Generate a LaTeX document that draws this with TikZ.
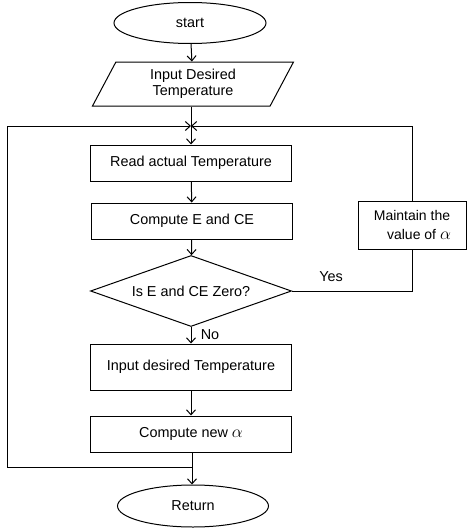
\documentclass[tikz,border=0pt]{standalone}
\usepackage{fontspec}
\setmainfont{Liberation Sans}
\usetikzlibrary{shapes.geometric,arrows.meta}
\newcommand{\bigalpha}{{\fontsize{18}{18}\selectfont$\alpha$}}

\begin{document}
\begin{tikzpicture}
[x=1pt,y=-1pt,line width=1pt,>={Straight Barb[length=5pt,width=9pt]},
	every node/.style={font=\fontsize{14.4}{16.5}\selectfont},
	terminal/.style={draw,ellipse,minimum width=152pt,minimum height=41pt,inner sep=0pt},
	datain/.style={draw,trapezium,trapezium left angle=52,trapezium right angle=128,
		trapezium stretches body,minimum width=201pt,minimum height=44pt,inner sep=0pt,align=center},
	process/.style={draw,rectangle,minimum width=201pt,minimum height=36pt,inner sep=0pt},
	decision/.style={draw,diamond,aspect=2.83,minimum width=201pt,minimum height=71pt,inner sep=0pt},
	sidebox/.style={draw,rectangle,minimum width=108pt,minimum height=48pt,inner sep=0pt,
		align=center,font=\fontsize{14}{15}\selectfont}]
\useasboundingbox (0,0) rectangle (474,530);

\node[terminal] (start) at (190,23) {start};
\node[datain] (desired) at (193,84) {Input Desired\\Temperature};
\coordinate (join) at (191,126);
\node[process] (read) at (191,163) {Read actual Temperature};
\node[process] (error) at (192,221) {Compute E and CE};
\node[decision] (zero) at (191,291) {Is E and CE Zero?};
\node[sidebox] (keep) at (412,225) {Maintain the\\[4pt]\quad value of \bigalpha};
\node[process,minimum height=46pt] (newtemp) at (191,367) {Input desired Temperature};
\node[process] (newalpha) at (191,434) {Compute new \bigalpha};
\node[terminal,minimum width=151pt,minimum height=42pt] (return) at (193,506) {Return};
\coordinate (back) at (192,467);

\draw[->] (start) -- (desired);
\draw[->] (desired.south -| join) -- (read.north -| join);
\draw[->] (read) -- (error);
\draw[->] (error) -- (zero);
\draw (zero.east) -- (keep.south |- zero.east) -- (keep.south);
\draw[->] (keep.north) |- (join);
\draw[->] (zero) -- node[right,xshift=6pt,yshift=1pt] {No} (newtemp);
\draw[->] (newtemp) -- (newalpha);
\draw[->] (newalpha.south -| back) -- (return.north -| back);
\draw[->] (back) -| (7,126) -- (join);
\node at (331,277) {Yes};
\end{tikzpicture}
\end{document}
